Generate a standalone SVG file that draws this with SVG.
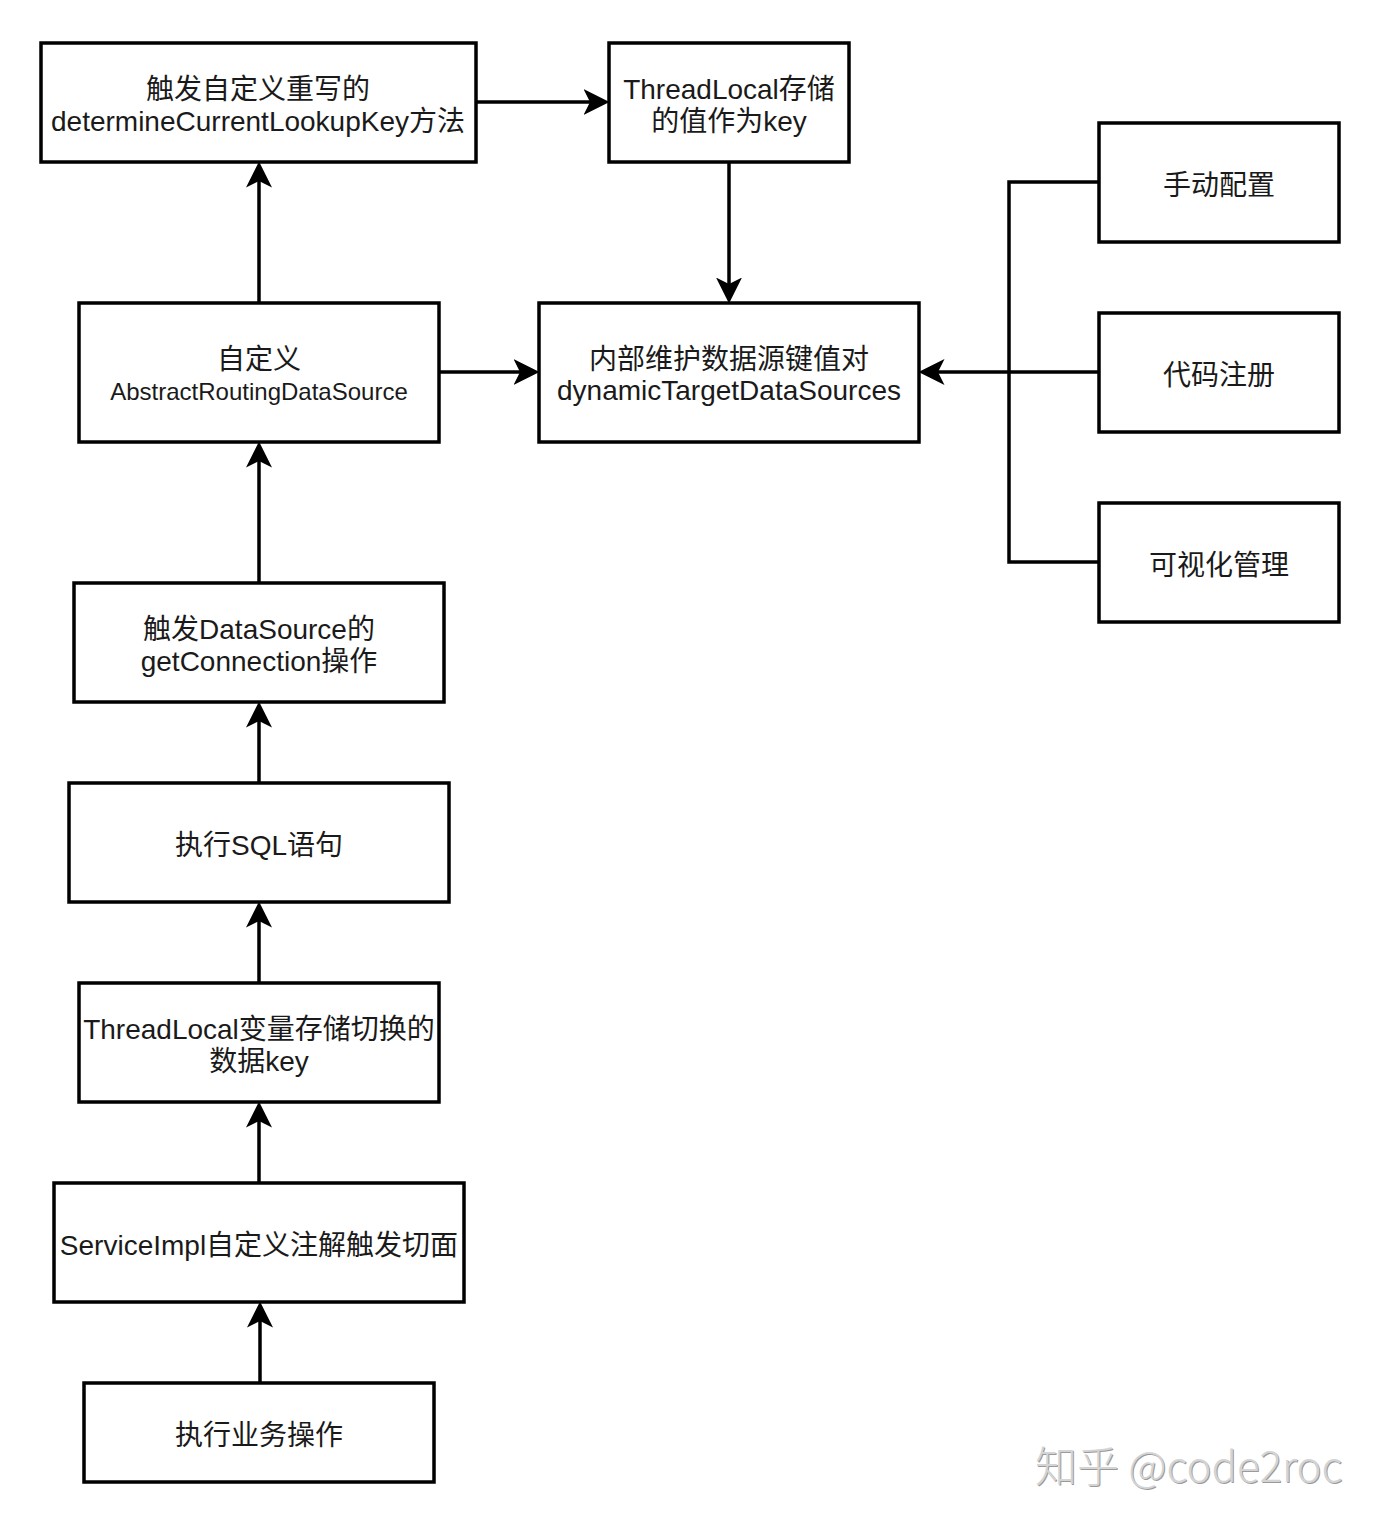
<svg xmlns="http://www.w3.org/2000/svg" width="1382" height="1524" viewBox="0 0 1382 1524">
<style>
.box{fill:#fff;stroke:#000;stroke-width:3.5}
.t{font-family:"Liberation Sans","Noto Sans CJK SC",sans-serif;font-size:28px;fill:#1a1a1a;text-anchor:middle}
.s{font-size:24px}
.c{fill:none;stroke:#000;stroke-width:3.5}
.wm{font-family:"Noto Sans CJK SC","Liberation Sans",sans-serif;font-size:42px;font-weight:300}
</style>
<defs>
<marker id="ah" markerUnits="userSpaceOnUse" markerWidth="26" markerHeight="26" viewBox="0 0 24 24" refX="18" refY="12" orient="auto">
<path d="M0,0 L24,12 L0,24 L6,12 Z" fill="#000"/>
</marker>
</defs>
<rect width="1382" height="1524" fill="#fff"/>
<g id="connectors">
<path class="c" d="M476,102 H603" marker-end="url(#ah)"/>
<path class="c" d="M729,162 V297" marker-end="url(#ah)"/>
<path class="c" d="M259,303 V168" marker-end="url(#ah)"/>
<path class="c" d="M439,372 H533" marker-end="url(#ah)"/>
<path class="c" d="M1099,182 H1009 V562 H1099"/>
<path class="c" d="M1099,372 H925" marker-end="url(#ah)"/>
<path class="c" d="M259,583 V448" marker-end="url(#ah)"/>
<path class="c" d="M259,783 V708" marker-end="url(#ah)"/>
<path class="c" d="M259,983 V908" marker-end="url(#ah)"/>
<path class="c" d="M259,1183 V1108" marker-end="url(#ah)"/>
<path class="c" d="M260,1383 V1308" marker-end="url(#ah)"/>
</g>
<g id="n1"><rect class="box" x="41" y="43" width="435" height="119"/><text class="t" x="258" y="99">触发自定义重写的</text><text class="t" x="258" y="131">determineCurrentLookupKey方法</text></g>
<g id="n2"><rect class="box" x="609" y="43" width="240" height="119"/><text class="t" x="729" y="99">ThreadLocal存储</text><text class="t" x="729" y="131">的值作为key</text></g>
<g id="n3"><rect class="box" x="79" y="303" width="360" height="139"/><text class="t" x="259" y="369">自定义</text><text class="t s" x="259" y="400">AbstractRoutingDataSource</text></g>
<g id="n4"><rect class="box" x="539" y="303" width="380" height="139"/><text class="t" x="729" y="369">内部维护数据源键值对</text><text class="t" x="729" y="400">dynamicTargetDataSources</text></g>
<g id="n5"><rect class="box" x="1099" y="123" width="240" height="119"/><text class="t" x="1219" y="195">手动配置</text></g>
<g id="n6"><rect class="box" x="1099" y="313" width="240" height="119"/><text class="t" x="1219" y="385">代码注册</text></g>
<g id="n7"><rect class="box" x="1099" y="503" width="240" height="119"/><text class="t" x="1219" y="575">可视化管理</text></g>
<g id="n8"><rect class="box" x="74" y="583" width="370" height="119"/><text class="t" x="259" y="639">触发DataSource的</text><text class="t" x="259" y="671">getConnection操作</text></g>
<g id="n9"><rect class="box" x="69" y="783" width="380" height="119"/><text class="t" x="259" y="855">执行SQL语句</text></g>
<g id="n10"><rect class="box" x="79" y="983" width="360" height="119"/><text class="t" x="259" y="1039">ThreadLocal变量存储切换的</text><text class="t" x="259" y="1071">数据key</text></g>
<g id="n11"><rect class="box" x="54" y="1183" width="410" height="119"/><text class="t" x="259" y="1255">ServiceImpl自定义注解触发切面</text></g>
<g id="n12"><rect class="box" x="84" y="1383" width="350" height="99"/><text class="t" x="259" y="1445">执行业务操作</text></g>
<g id="watermark">
<text class="wm" x="1036" y="1483" fill="#9a9a9a">知乎 @code2roc</text>
<text class="wm" x="1035" y="1482" fill="#d4d4d4">知乎 @code2roc</text>
</g>
</svg>
